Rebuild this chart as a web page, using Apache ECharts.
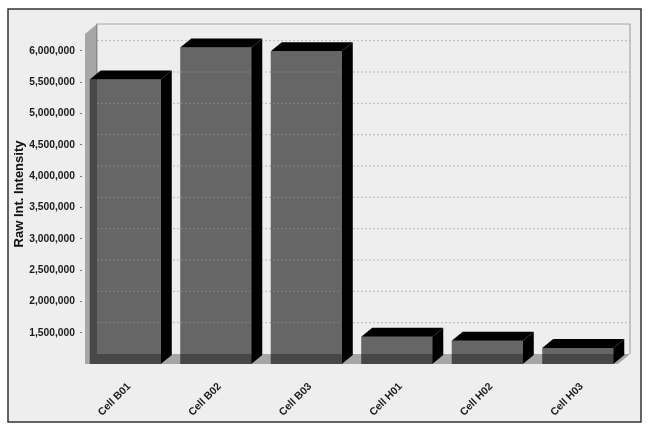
<!DOCTYPE html>
<html>
<head>
<meta charset="utf-8">
<style>html,body{margin:0;padding:0;background:#fff}#c{width:650px;height:431px;filter:blur(0.45px)}</style>
<script src="https://cdn.jsdelivr.net/npm/echarts@6/dist/echarts.min.js"></script>
</head>
<body>
<div id="c"></div>
<script>
const categories = ['Cell B01', 'Cell B02', 'Cell B03', 'Cell H01', 'Cell H02', 'Cell H03'];
const intensity = [5540000, 6050000, 5990000, 1436000, 1372000, 1255000];
const gridValues = [1500000, 2000000, 2500000, 3000000, 3500000, 4000000, 4500000, 5000000, 5500000, 6000000];
const axisMin = 1000000, axisMax = 6266000, axisStep = 500000;

const barRatio = 0.785, barDX = 11, barDY = 9, wallDX = 12, wallDY = 10, wallInset = 5, wallExtra = 7;
const chart = echarts.init(document.getElementById('c'), null, {renderer: 'canvas'});
const barGeom = (params, api) => {
  const w = api.size([1, 0])[0] * barRatio;
  const top = api.coord([api.value(0), api.value(1)]);
  const base = api.coord([api.value(0), axisMin]);
  return {x0: top[0] - w / 2, x1: top[0] + w / 2, y: top[1], b: base[1], w};
};
chart.setOption({
  animation: false,
  backgroundColor: '#ffffff',
  graphic: [{type: 'rect', z: -10, silent: true,
    shape: {x: 8, y: 9, width: 633, height: 413},
    style: {fill: '#eeeeee', stroke: '#333333', lineWidth: 1.5}}],
  grid: {left: 80, right: 27, top: 34, bottom: 67},
  xAxis: {type: 'category', data: categories,
    axisLine: {show: false}, axisTick: {show: false},
    axisLabel: {rotate: 45, interval: 0, margin: 17, color: '#1a1a1a', verticalAlign: 'top',
      fontFamily: '"Liberation Sans", Arial, sans-serif', fontWeight: 'bold', fontSize: 10.5}},
  yAxis: {type: 'value', min: axisMin, max: axisMax, interval: axisStep,
    name: 'Raw Int. Intensity', nameLocation: 'middle', nameGap: 54, nameRotate: 90, nameMoveOverlap: false,
    nameTextStyle: {color: '#111', fontFamily: '"Liberation Sans", Arial, sans-serif', fontWeight: 'bold', fontSize: 13, padding: [0, 0, 0, 10]},
    axisLine: {show: false}, splitLine: {show: false},
    axisTick: {show: true, inside: true, length: 2, lineStyle: {color: '#777'}},
    axisLabel: {margin: 5, color: '#1a1a1a', showMinLabel: false, showMaxLabel: false,
      fontFamily: '"Liberation Sans", Arial, sans-serif', fontWeight: 'bold', fontSize: 10.3,
      formatter: v => v.toLocaleString('en-US')}},
  series: [
    {type: 'custom', z: 1, silent: true, data: [[0, axisMin]], encode: {x: 0, y: 1},
      clip: false,
      renderItem: (params, api) => {
        const cs = params.coordSys;
        const l = cs.x + wallInset, b = cs.y + cs.height, t = cs.y, rb = cs.x + cs.width + wallExtra;
        return {type: 'polyline', shape: {points: [[l + wallDX, b - wallDY], [l + wallDX, t - wallDY], [rb, t - wallDY], [rb, b - wallDY]]},
          style: {fill: 'none', stroke: '#a8a8a8', lineWidth: 1.2}};
      }},
    {type: 'custom', z: 2, silent: true, data: categories.map((c, i) => [i, intensity[i]]),
      encode: {x: 0, y: 1},
      renderItem: (params, api) => {
        const g = barGeom(params, api);
        return {type: 'rect', shape: {x: g.x0, y: g.y, width: g.w, height: g.b - g.y},
          style: {fill: '#666666'}};
      }},
    {type: 'custom', z: 3, silent: true, data: [[0, axisMin]], encode: {x: 0, y: 1},
      clip: false,
      renderItem: (params, api) => {
        const cs = params.coordSys;
        const l = cs.x + wallInset, b = cs.y + cs.height, t = cs.y, rb = cs.x + cs.width + wallExtra;
        return {type: 'group', children: [
          {type: 'polygon', shape: {points: [[l, t], [l + wallDX, t - wallDY], [l + wallDX, b - wallDY], [l, b]]},
            style: {fill: 'rgba(0,0,0,0.3)'}},
          {type: 'polygon', shape: {points: [[l, b], [l + wallDX, b - wallDY], [rb, b - wallDY], [rb - wallDX, b]]},
            style: {fill: 'rgba(0,0,0,0.3)'}}
        ]};
      }},
    {type: 'custom', z: 4, silent: true, data: gridValues.map(v => [0, v]), encode: {x: 0, y: 1},
      clip: false,
      renderItem: (params, api) => {
        const cs = params.coordSys;
        const y = api.coord([0, api.value(1)])[1] - wallDY;
        return {type: 'line', shape: {x1: cs.x + wallInset + wallDX, y1: y, x2: cs.x + cs.width + wallExtra, y2: y},
          style: {stroke: 'rgba(150,150,150,0.6)', lineWidth: 1, lineDash: [2, 2]}};
      }},
    {type: 'custom', z: 5, silent: true, data: categories.map((c, i) => [i, intensity[i]]),
      encode: {x: 0, y: 1}, clip: false,
      renderItem: (params, api) => {
        const g = barGeom(params, api);
        return {type: 'group', children: [
          {type: 'polygon', shape: {points: [[g.x0, g.y], [g.x0 + barDX, g.y - barDY], [g.x1 + barDX, g.y - barDY], [g.x1, g.y]]},
            style: {fill: '#000'}},
          {type: 'polygon', shape: {points: [[g.x1, g.y], [g.x1 + barDX, g.y - barDY], [g.x1 + barDX, g.b - barDY], [g.x1, g.b]]},
            style: {fill: '#000'}}
        ]};
      }}
  ]
});
</script>
</body>
</html>
